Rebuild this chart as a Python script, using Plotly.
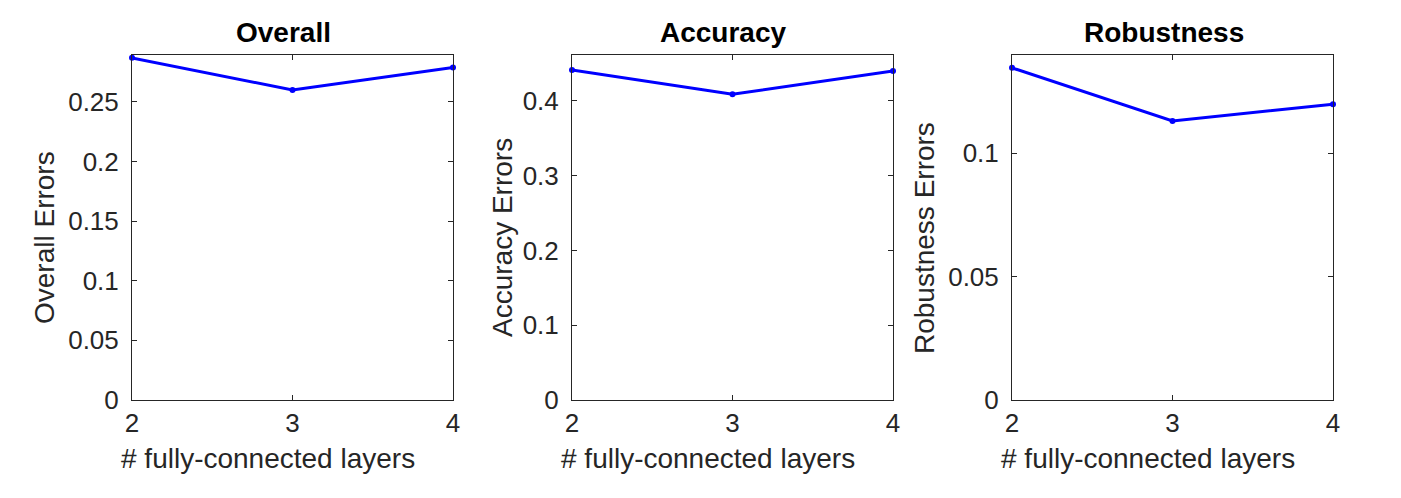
import plotly.graph_objects as go

layers = [2, 3, 4]
overall = [0.287, 0.260, 0.279]
accuracy = [0.4415, 0.409, 0.440]
robustness = [0.1345, 0.113, 0.1198]

titles = ["Overall", "Accuracy", "Robustness"]
ylabels = ["Overall Errors", "Accuracy Errors", "Robustness Errors"]
series = [overall, accuracy, robustness]
yranges = [[0, 0.2894], [0, 0.4615], [0, 0.1397]]
ytickvals = [[0, 0.05, 0.1, 0.15, 0.2, 0.25], [0, 0.1, 0.2, 0.3, 0.4], [0, 0.05, 0.1]]
yticktext = [["0", "0.05", "0.1", "0.15", "0.2", "0.25"], ["0", "0.1", "0.2", "0.3", "0.4"], ["0", "0.05", "0.1"]]
xlabel = "# fully-connected layers"

W, H = 1401, 498
OFF = 8  # page body margin
left_px = [132, 572, 1012]
right_px = [453, 893, 1333]
xdoms = [[(l - OFF) / W, (r - OFF) / W] for l, r in zip(left_px, right_px)]
ydom = [1 - (400 - OFF) / H, 1 - (55 - OFF) / H]
ylabel_dx = [-87, -69, -87]

fig = go.Figure()
axcol = "#262626"
font = "Liberation Sans, Arial, Helvetica, sans-serif"

annotations = []
for i in range(3):
    sfx = "" if i == 0 else str(i + 1)
    fig.add_trace(go.Scatter(
        x=layers, y=series[i], mode="lines+markers",
        line=dict(color="#0000ff", width=3),
        marker=dict(color="#0000ff", size=6),
        xaxis="x" + sfx, yaxis="y" + sfx, showlegend=False, cliponaxis=False))
    fig.layout["xaxis" + sfx] = dict(
        domain=xdoms[i], range=[2, 4], tickvals=layers, ticktext=[str(v) for v in layers],
        anchor="y" + sfx, showgrid=False, zeroline=False, showline=True, linecolor=axcol,
        linewidth=1, mirror="ticks", ticks="inside", ticklen=5, tickcolor=axcol, automargin=False,
        tickfont=dict(size=26, color=axcol, family=font))
    fig.layout["yaxis" + sfx] = dict(
        domain=ydom, range=yranges[i], tickvals=ytickvals[i], ticktext=yticktext[i],
        anchor="x" + sfx, showgrid=False, zeroline=False, showline=True, linecolor=axcol,
        linewidth=1, mirror="ticks", ticks="inside", ticklen=5, tickcolor=axcol, automargin=False,
        ticklabelstandoff=7,
        tickfont=dict(size=26, color=axcol, family=font))
    cx = (xdoms[i][0] + xdoms[i][1]) / 2
    annotations.append(dict(text="<b>" + titles[i] + "</b>", x=cx - 9 / W, y=1 - (33 - OFF) / H,
                            xref="paper", yref="paper",
                            showarrow=False, font=dict(size=28, color="black", family=font),
                            xanchor="center", yanchor="middle"))
    annotations.append(dict(text=xlabel, x=cx - 25 / W, y=1 - (458 - OFF) / H, xref="paper", yref="paper",
                            showarrow=False, font=dict(size=28, color=axcol, family=font),
                            xanchor="center", yanchor="middle"))
    annotations.append(dict(text=ylabels[i], x=xdoms[i][0] + ylabel_dx[i] / W, y=1 - (238 - OFF) / H,
                            xref="paper", yref="paper", textangle=-90,
                            showarrow=False, font=dict(size=28, color=axcol, family=font),
                            xanchor="center", yanchor="middle"))

fig.update_layout(width=W, height=H, margin=dict(l=0, r=0, t=0, b=0), autosize=False,
                  paper_bgcolor="white", plot_bgcolor="white", annotations=annotations)
fig.write_html("out.html")
